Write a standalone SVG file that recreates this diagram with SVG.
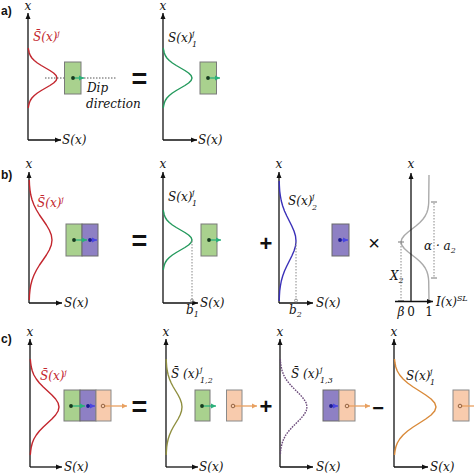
<svg xmlns="http://www.w3.org/2000/svg" width="474" height="474" viewBox="0 0 474 474">
<style>
.ax{stroke:#111;stroke-width:1.3;fill:none}
.cv{fill:none;stroke-width:1.4;stroke-linejoin:round}
.m{font-family:"DejaVu Serif",serif;font-style:italic;font-size:12px;fill:#111}
.sm{font-size:8px}
.op{font-family:"Liberation Sans",Arial,sans-serif;fill:#111;text-anchor:middle}
.pl{font-family:"Liberation Sans",Arial,sans-serif;font-weight:bold;font-size:12px;fill:#111}
.rg{fill:#a9d18e;stroke:#7a7a7a;stroke-width:1}
.rp{fill:#8e80c4;stroke:#6a6a6a;stroke-width:1}
.ro{fill:#f8cbad;stroke:#8a8a8a;stroke-width:1}
.dg{stroke:#2bb07a;stroke-width:1.3;fill:none}
.db{stroke:#4a46e0;stroke-width:1.3;fill:none}
.do{stroke:#e8a060;stroke-width:1.3;fill:none}
.dot{stroke:#888;stroke-width:1;stroke-dasharray:1.5 1.5;fill:none}
.cap{stroke:#777;stroke-width:1;fill:none}
</style>
<defs>
<marker id="ak" markerUnits="userSpaceOnUse" markerWidth="7" markerHeight="6" refX="6" refY="3" orient="auto"><path d="M0,0.5 L6,3 L0,5.5 z" fill="#111"/></marker>
<marker id="agm" markerUnits="userSpaceOnUse" markerWidth="6" markerHeight="6" refX="5" refY="3" orient="auto"><path d="M0,0.5 L5,3 L0,5.5 z" fill="#2bb07a"/></marker>
<marker id="abm" markerUnits="userSpaceOnUse" markerWidth="6" markerHeight="6" refX="5" refY="3" orient="auto"><path d="M0,0.5 L5,3 L0,5.5 z" fill="#4a46e0"/></marker>
<marker id="aom" markerUnits="userSpaceOnUse" markerWidth="6" markerHeight="6" refX="5" refY="3" orient="auto"><path d="M0,0.5 L5,3 L0,5.5 z" fill="#e8a060"/></marker>
</defs>

<!-- panel labels -->
<text class="pl" x="1" y="15">a)</text>
<text class="pl" x="1" y="179">b)</text>
<text class="pl" x="1" y="343">c)</text>

<!-- ===== Panel a ===== -->
<g id="a-plot1">
<path class="ax" d="M28,140 V13" marker-end="url(#ak)"/>
<path class="ax" d="M28,140 H61" marker-end="url(#ak)"/>
<text class="m" x="28" y="10" font-size="9" text-anchor="middle">x</text>
<text class="m" x="62" y="144">S(x)</text>
<polyline class="cv" stroke="#c3262e" points="28.3,48 28.7,50.5 29.3,53 30.3,55.5 31.9,58 34.3,60.5 37.4,63 41.3,65.5 45.6,68 49.9,70.5 53.6,73 56.1,75.5 57,78 56.1,80.5 53.6,83 49.9,85.5 45.6,88 41.3,90.5 37.4,93 34.3,95.5 31.9,98 30.3,100.5 29.3,103 28.7,105.5 28.3,108"/>
<text class="m" x="33" y="41" style="fill:#c3262e">S̄(x)<tspan class="sm" dy="-5">j</tspan></text>
</g>
<g id="a-dip">
<line class="dot" x1="45" y1="78" x2="116" y2="78" style="stroke:#555"/>
<rect class="rg" x="64.5" y="62" width="16.5" height="32"/>
<text class="m" x="87" y="92" font-size="13">Dip</text>
<text class="m" x="86" y="108" font-size="13">direction</text>
</g>
<text class="op" x="139.5" y="88" font-size="27" font-weight="bold">=</text>
<g id="a-plot2">
<path class="ax" d="M163,140 V13" marker-end="url(#ak)"/>
<path class="ax" d="M163,140 H197" marker-end="url(#ak)"/>
<text class="m" x="163" y="10" font-size="9" text-anchor="middle">x</text>
<text class="m" x="198" y="144">S(x)</text>
<polyline class="cv" stroke="#23995c" points="163.3,48 163.7,50.5 164.3,53 165.3,55.5 166.9,58 169.3,60.5 172.4,63 176.3,65.5 180.6,68 184.9,70.5 188.6,73 191.1,75.5 192,78 191.1,80.5 188.6,83 184.9,85.5 180.6,88 176.3,90.5 172.4,93 169.3,95.5 166.9,98 165.3,100.5 164.3,103 163.7,105.5 163.3,108"/>
<text class="m" x="168" y="42">S(x)<tspan class="sm" x="192" y="36">j</tspan><tspan class="sm" x="192" y="47">1</tspan></text>
<rect class="rg" x="200" y="62" width="16.5" height="32"/>
</g>

<!-- ===== Panel b ===== -->
<g id="b-plot1">
<path class="ax" d="M29,303 V172" marker-end="url(#ak)"/>
<path class="ax" d="M29,303 H62" marker-end="url(#ak)"/>
<text class="m" x="29" y="168" font-size="10" text-anchor="middle">x</text>
<text class="m" x="64" y="307">S(x)</text>
<polyline class="cv" stroke="#c3262e" points="29.3,180 29.5,185 30,190 30.8,195 32.1,200 34,205 36.5,210 39.5,215 43,220 46.4,225 49.3,230 51.3,235 52,240 51.3,245 49.3,250 46.4,255 43,260 39.5,265 36.5,270 34,275 32.1,280 30.8,285 30,290 29.5,295 29.3,300"/>
<text class="m" x="37" y="207" style="fill:#c3262e">S̄(x)<tspan class="sm" dy="-5">j</tspan></text>
<rect class="rg" x="66" y="224" width="16" height="32"/>
<rect class="rp" x="82" y="224" width="16" height="32"/>
</g>
<text class="op" x="139.5" y="250" font-size="27" font-weight="bold">=</text>
<g id="b-plot2">
<path class="ax" d="M163,303 V172" marker-end="url(#ak)"/>
<path class="ax" d="M163,303 H198" marker-end="url(#ak)"/>
<text class="m" x="163" y="168" font-size="10" text-anchor="middle">x</text>
<text class="m" x="200" y="307">S(x)</text>
<polyline class="cv" stroke="#23995c" points="163.3,210 163.7,212.5 164.3,215 165.3,217.5 166.9,220 169.3,222.5 172.4,225 176.3,227.5 180.6,230 184.9,232.5 188.6,235 191.1,237.5 192,240 191.1,242.5 188.6,245 184.9,247.5 180.6,250 176.3,252.5 172.4,255 169.3,257.5 166.9,260 165.3,262.5 164.3,265 163.7,267.5 163.3,270"/>
<line class="dot" x1="192" y1="241" x2="192" y2="300"/>
<circle cx="192" cy="300.5" r="1.5" fill="none" stroke="#888" stroke-width="0.8"/>
<text class="m" x="186" y="314">b<tspan class="sm" dy="3">1</tspan></text>
<text class="m" x="168" y="201">S(x)<tspan class="sm" x="192" y="195">j</tspan><tspan class="sm" x="192" y="206">1</tspan></text>
<rect class="rg" x="201" y="224" width="16" height="32"/>
</g>
<text class="op" x="266" y="251" font-size="22" font-weight="bold">+</text>
<g id="b-plot3">
<path class="ax" d="M279,303 V172" marker-end="url(#ak)"/>
<path class="ax" d="M279,303 H313" marker-end="url(#ak)"/>
<text class="m" x="279" y="168" font-size="10" text-anchor="middle">x</text>
<text class="m" x="316" y="307">S(x)</text>
<polyline class="cv" stroke="#3a30b8" points="279.2,181 279.4,186 279.7,191 280.4,196 281.3,201 282.7,206 284.5,211 286.8,216 289.3,221 291.8,226 294,231 295.5,236 296,241 295.5,246 294,251 291.8,256 289.3,261 286.8,266 284.5,271 282.7,276 281.3,281 280.4,286 279.7,291 279.4,296 279.2,301"/>
<line class="dot" x1="296" y1="242" x2="296" y2="300"/>
<circle cx="296" cy="300.5" r="1.5" fill="none" stroke="#888" stroke-width="0.8"/>
<text class="m" x="289" y="314">b<tspan class="sm" dy="3">2</tspan></text>
<text class="m" x="288" y="205">S(x)<tspan class="sm" x="312" y="199">j</tspan><tspan class="sm" x="312" y="210">2</tspan></text>
<rect class="rp" x="332" y="224" width="17" height="32"/>
</g>
<text class="op" x="374" y="250" font-size="20">×</text>
<g id="b-plot4">
<polyline class="cv" stroke="#aaaaaa" stroke-width="1.6" points="429,175 428.7,203 428.4,206.25 427.8,209.5 426.8,212.75 425.2,216 422.9,219.25 419.9,222.5 416.2,225.75 412,229 407.9,232.25 404.3,235.5 401.9,238.75 401,242 401.9,245.25 404.3,248.5 407.9,251.75 412,255 416.2,258.25 419.9,261.5 422.9,264.75 425.2,268 426.8,271.25 427.8,274.5 428.4,277.75 428.7,281 429,302"/>
<path class="ax" d="M411,302 V173" stroke-width="2" marker-end="url(#ak)"/>
<path class="ax" d="M395,301.5 H433" marker-end="url(#ak)"/>
<text class="m" x="411" y="168" font-size="10" text-anchor="middle">x</text>
<line class="dot" x1="401" y1="243" x2="401" y2="300"/>
<path class="cap" d="M398,242 H404 M398,300.5 H404"/>
<line class="dot" x1="434" y1="203" x2="434" y2="277"/>
<path class="cap" d="M431,202 H437 M431,278 H437"/>
<text class="m" x="390" y="280">X<tspan class="sm" dy="3">2</tspan></text>
<text class="m" x="424" y="250">α · a<tspan class="sm" dy="3">2</tspan></text>
<text class="m" x="401" y="316" text-anchor="middle">β</text>
<text class="m" x="411" y="316" text-anchor="middle" style="font-style:normal">0</text>
<text class="m" x="429" y="316" text-anchor="middle" style="font-style:normal">1</text>
<text class="m" x="436" y="306">I(x)<tspan class="sm" dy="-5">SL</tspan></text>
</g>

<!-- ===== Panel c ===== -->
<g id="c-plot1">
<path class="ax" d="M30,467 V339" marker-end="url(#ak)"/>
<path class="ax" d="M30,467 H62" marker-end="url(#ak)"/>
<text class="m" x="30" y="336" font-size="10" text-anchor="middle">x</text>
<text class="m" x="64" y="471">S(x)</text>
<polyline class="cv" stroke="#c3262e" points="30.3,359 30.7,363 31.3,367 32.3,371 33.9,375 36.3,379 39.4,383 43.3,387 47.6,391 51.9,395 55.6,399 58.1,403 59,407 58.1,411 55.6,415 51.9,419 47.6,423 43.3,427 39.4,431 36.3,435 33.9,439 32.3,443 31.3,447 30.7,451 30.3,455"/>
<text class="m" x="40" y="380" style="fill:#c3262e">S̄(x)<tspan class="sm" dy="-5">j</tspan></text>
<rect class="rg" x="64" y="390" width="16" height="31"/>
<rect class="rp" x="80" y="390" width="16" height="31"/>
<rect class="ro" x="96" y="390" width="15" height="31"/>
</g>
<text class="op" x="139.5" y="416" font-size="27" font-weight="bold">=</text>
<g id="c-plot2">
<path class="ax" d="M166,467 V339" marker-end="url(#ak)"/>
<path class="ax" d="M166,467 H198" marker-end="url(#ak)"/>
<text class="m" x="166" y="336" font-size="10" text-anchor="middle">x</text>
<text class="m" x="199" y="471">S(x)</text>
<polyline class="cv" stroke="#8f8f40" points="166.2,359 166.4,363 166.7,367 167.3,371 168.2,375 169.5,379 171.2,383 173.3,387 175.7,391 178.1,395 180.1,399 181.5,403 182,407 181.5,411 180.1,415 178.1,419 175.7,423 173.3,427 171.2,431 169.5,435 168.2,439 167.3,443 166.7,447 166.4,451 166.2,455"/>
<text class="m" x="171" y="378">S̄ (x)<tspan class="sm" x="200" y="372">j</tspan><tspan class="sm" x="200" y="383">1,2</tspan></text>
<rect class="rg" x="195" y="390" width="15" height="31"/>
<rect class="ro" x="226.5" y="390" width="15.5" height="31"/>
</g>
<text class="op" x="266" y="414" font-size="22" font-weight="bold">+</text>
<g id="c-plot3">
<path class="ax" d="M280,467 V339" marker-end="url(#ak)"/>
<path class="ax" d="M280,467 H313" marker-end="url(#ak)"/>
<text class="m" x="280" y="336" font-size="10" text-anchor="middle">x</text>
<text class="m" x="316" y="471">S(x)</text>
<polyline class="cv" stroke="#6b4a7a" stroke-dasharray="1.6 1.1" points="280.3,359 280.6,363 281.2,367 282.2,371 283.7,375 285.8,379 288.8,383 292.4,387 296.4,391 300.4,395 303.8,399 306.2,403 307,407 306.2,411 303.8,415 300.4,419 296.4,423 292.4,427 288.8,431 285.8,435 283.7,439 282.2,443 281.2,447 280.6,451 280.3,455"/>
<text class="m" x="291" y="378">S̄ (x)<tspan class="sm" x="320" y="372">j</tspan><tspan class="sm" x="320" y="383">1,3</tspan></text>
<rect class="rp" x="323" y="390" width="16" height="31"/>
<rect class="ro" x="339" y="390" width="16" height="31"/>
</g>
<text class="op" x="378" y="415" font-size="20" font-weight="bold">−</text>
<g id="c-plot4">
<path class="ax" d="M394,467 V339" marker-end="url(#ak)"/>
<path class="ax" d="M394,467 H428" marker-end="url(#ak)"/>
<text class="m" x="394" y="336" font-size="10" text-anchor="middle">x</text>
<text class="m" x="430" y="471">S(x)</text>
<polyline class="cv" stroke="#d98a3a" points="394.5,359 395,363 395.8,367 397.3,371 399.7,375 403.1,379 407.6,383 413.2,387 419.5,391 425.7,395 431.1,399 434.7,403 436,407 434.7,411 431.1,415 425.7,419 419.5,423 413.2,427 407.6,431 403.1,435 399.7,439 397.3,443 395.8,447 395,451 394.5,455"/>
<text class="m" x="406" y="380">S(x)<tspan class="sm" x="430" y="374">j</tspan><tspan class="sm" x="430" y="385">1</tspan></text>
<rect class="ro" x="453" y="390" width="16" height="31"/>
</g>

<!-- connectors: direction arrows and dots -->
<g id="connectors">
<line class="dg" x1="73" y1="78" x2="84" y2="78" marker-end="url(#agm)"/>
<line class="dg" x1="208" y1="78" x2="220" y2="78" marker-end="url(#agm)"/>
<line class="dg" x1="74" y1="240" x2="87" y2="240" marker-end="url(#agm)"/>
<line class="db" x1="90" y1="240" x2="97" y2="240" marker-end="url(#abm)"/>
<line class="dg" x1="209" y1="240" x2="221" y2="240" marker-end="url(#agm)"/>
<line class="db" x1="340" y1="240" x2="348" y2="240" marker-end="url(#abm)"/>
<line class="dg" x1="71" y1="406" x2="85" y2="406" marker-end="url(#agm)"/>
<line class="db" x1="88" y1="406" x2="95" y2="406" marker-end="url(#abm)"/>
<line class="do" x1="103" y1="406" x2="127" y2="406" marker-end="url(#aom)"/>
<line class="dg" x1="202" y1="406" x2="216" y2="406" marker-end="url(#agm)"/>
<line class="do" x1="233" y1="406" x2="257" y2="406" marker-end="url(#aom)"/>
<line class="db" x1="331" y1="406" x2="338" y2="406" marker-end="url(#abm)"/>
<line class="do" x1="347" y1="406" x2="370" y2="406" marker-end="url(#aom)"/>
<line class="do" x1="460" y1="406" x2="476" y2="406"/>
<g fill="#163a1e">
<circle cx="73" cy="78" r="1.9"/><circle cx="208" cy="78" r="1.9"/>
<circle cx="74" cy="240" r="1.9"/><circle cx="209" cy="240" r="1.9"/>
<circle cx="71" cy="406" r="1.9"/><circle cx="202" cy="406" r="1.9"/>
</g>
<g fill="#1a1a90">
<circle cx="90" cy="240" r="1.9"/><circle cx="340" cy="240" r="1.9"/>
<circle cx="88" cy="406" r="1.9"/><circle cx="331" cy="406" r="1.9"/>
</g>
<g fill="#f8cbad" stroke="#7a4a2a" stroke-width="0.8">
<circle cx="103" cy="406" r="1.8"/><circle cx="233" cy="406" r="1.8"/>
<circle cx="347" cy="406" r="1.8"/><circle cx="460" cy="406" r="1.8"/>
</g>
</g>
</svg>
